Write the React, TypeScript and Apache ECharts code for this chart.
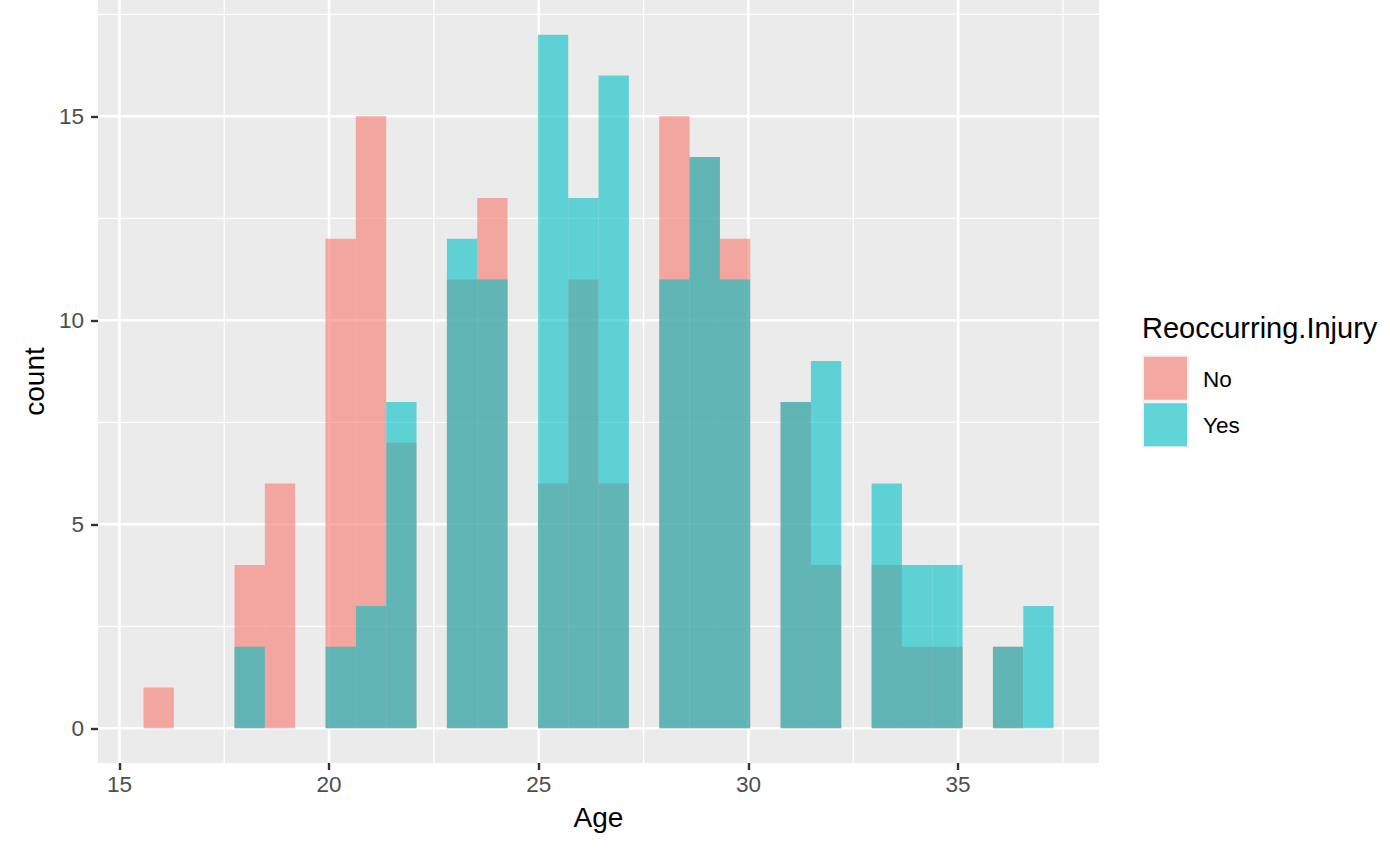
import React, { useEffect, useRef } from 'react'
import * as echarts from 'echarts'

// 30 histogram bins over Age (left edge of first bin, width of each bin)
const binStart = 15.574
const binWidth = 0.72345
const groups = ['No', 'Yes']
const countNo = [1, 0, 0, 4, 6, 0, 12, 15, 7, 0, 11, 13, 0, 6, 11, 6, 0, 15, 14, 12, 0, 8, 4, 0, 4, 2, 2, 0, 2, 0]
const countYes = [0, 0, 0, 2, 0, 0, 2, 3, 8, 0, 12, 11, 0, 17, 13, 16, 0, 11, 14, 11, 0, 8, 9, 0, 6, 4, 4, 0, 2, 3]

const xTicks = [15, 20, 25, 30, 35]
const xMinor = [17.5, 22.5, 27.5, 32.5, 37.5]
const yTicks = [0, 5, 10, 15]
const yMinor = [2.5, 7.5, 12.5, 17.5]

const groupColors = ['#F8766D', '#00BFC4']
const FONT = '"Liberation Sans", Arial, Helvetica, sans-serif'

const toBins = (counts: number[]) =>
  counts
    .map((c, i) => [binStart + i * binWidth, binStart + (i + 1) * binWidth, c])
    .filter((d) => d[2] > 0)

const App: React.FC = () => {
  const chartRef = useRef<HTMLDivElement>(null)

  useEffect(() => {
    if (!chartRef.current) return
    const chart = echarts.init(chartRef.current, undefined, { renderer: 'svg' })

    const barSeries = (name: string, counts: number[], color: string) => ({
      type: 'custom',
      name,
      z: 3,
      data: toBins(counts),
      encode: { x: [0, 1], y: 2 },
      renderItem: (params: any, api: any) => {
        const p0 = api.coord([api.value(0), api.value(2)])
        const p1 = api.coord([api.value(1), 0])
        return {
          type: 'rect',
          shape: { x: p0[0], y: p0[1], width: p1[0] - p0[0], height: p1[1] - p0[1] },
          style: { fill: color, opacity: 0.6 },
        }
      },
    })

    const vLines = (vals: number[], w: number) => ({
      type: 'custom',
      silent: true,
      z: 1,
      data: vals.map((v) => [v, 0]),
      encode: { x: 0, y: 1 },
      renderItem: (params: any, api: any) => {
        const x = api.coord([api.value(0), 0])[0]
        const cs = params.coordSys
        return {
          type: 'line',
          shape: { x1: x, y1: cs.y, x2: x, y2: cs.y + cs.height },
          style: { stroke: '#FFFFFF', lineWidth: w },
        }
      },
    })

    const hLines = (vals: number[], w: number) => ({
      type: 'custom',
      silent: true,
      z: 1,
      data: vals.map((v) => [20, v]),
      encode: { x: 0, y: 1 },
      renderItem: (params: any, api: any) => {
        const y = api.coord([20, api.value(1)])[1]
        const cs = params.coordSys
        return {
          type: 'line',
          shape: { x1: cs.x, y1: y, x2: cs.x + cs.width, y2: y },
          style: { stroke: '#FFFFFF', lineWidth: w },
        }
      },
    })

    // legend drawn ggplot-style
    const legendItems: any[] = [
      {
        type: 'text',
        x: 1142,
        y: 328,
        style: { text: 'Reoccurring.Injury', fontSize: 29, fontFamily: FONT, fill: '#000000', textVerticalAlign: 'middle' },
      },
    ]
    groups.forEach((g, i) => {
      const top = 355 + i * 46.5
      legendItems.push(
        { type: 'rect', shape: { x: 1142, y: top, width: 47, height: 46.5 }, style: { fill: '#F2F2F2' } },
        {
          type: 'rect',
          shape: { x: 1144, y: top + 1.8, width: 43, height: 43 },
          style: { fill: groupColors[i], opacity: 0.6 },
        },
        {
          type: 'text',
          x: 1203,
          y: top + 24,
          style: { text: g, fontSize: 22.5, fontFamily: FONT, fill: '#000000', textVerticalAlign: 'middle' },
        },
      )
    })

    const option: any = {
      animation: false,
      backgroundColor: '#FFFFFF',
      textStyle: { fontFamily: FONT },
      grid: {
        left: 98,
        top: 0,
        width: 1001,
        height: 763,
        show: true,
        backgroundColor: '#EBEBEB',
        borderWidth: 0,
        containLabel: false,
        outerBoundsMode: 'none',
      },
      xAxis: {
        type: 'value',
        min: 14.489,
        max: 38.36,
        name: 'Age',
        nameLocation: 'middle',
        nameGap: 40,
        nameTextStyle: { fontSize: 28, color: '#000000', fontFamily: FONT },
        axisLine: { show: false, onZero: false },
        axisTick: { show: true, customValues: xTicks, length: 7, lineStyle: { color: '#333333', width: 2.4 } },
        axisLabel: { customValues: xTicks, fontSize: 22.5, color: '#4D4D4D', margin: 10, fontFamily: FONT },
        splitLine: { show: false },
      },
      yAxis: {
        type: 'value',
        min: -0.85,
        max: 17.85,
        name: 'count',
        nameLocation: 'middle',
        nameRotate: 90,
        nameGap: 49,
        nameTextStyle: { fontSize: 28, color: '#000000', fontFamily: FONT },
        axisLine: { show: false, onZero: false },
        axisTick: { show: true, customValues: yTicks, length: 7, lineStyle: { color: '#333333', width: 2.4 } },
        axisLabel: { customValues: yTicks, fontSize: 22.5, color: '#4D4D4D', margin: 14, fontFamily: FONT },
        splitLine: { show: false },
      },
      graphic: legendItems,
      series: [
        vLines(xMinor, 1.3),
        hLines(yMinor, 1.3),
        vLines(xTicks, 2.6),
        hLines(yTicks, 2.6),
        barSeries('No', countNo, groupColors[0]),
        barSeries('Yes', countYes, groupColors[1]),
      ],
    }

    chart.setOption(option)
    return () => {
      chart.dispose()
    }
  }, [])

  return (
    <div
      ref={chartRef}
      style={{ position: 'fixed', left: 0, top: 0, width: '1390px', height: '850px', background: '#FFFFFF' }}
    />
  )
}

export default App
